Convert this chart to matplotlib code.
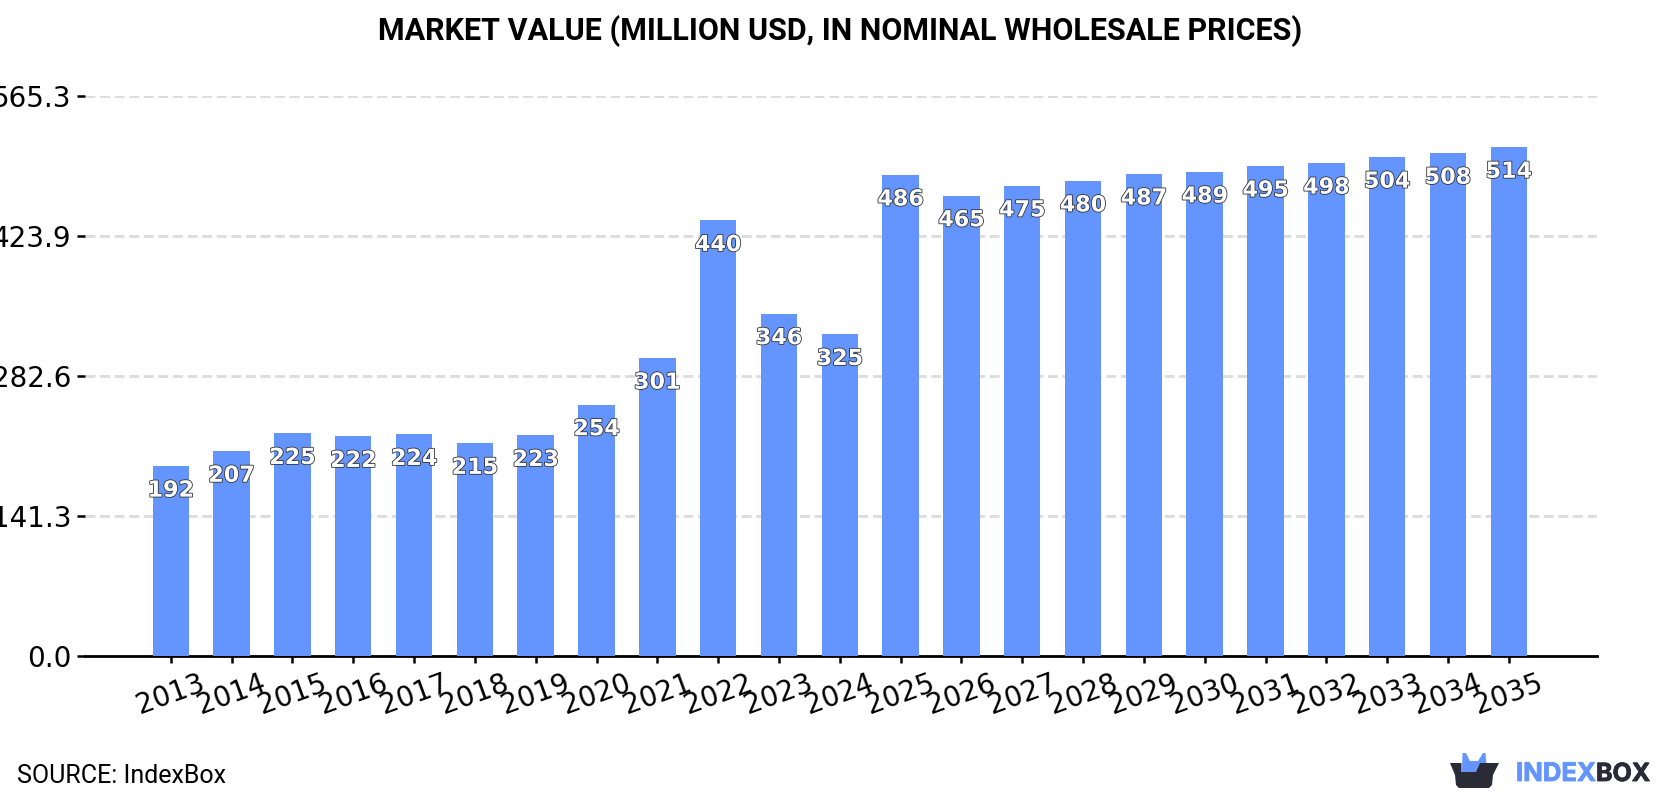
import matplotlib
matplotlib.use("Agg")
import matplotlib.pyplot as plt
import matplotlib.patheffects as pe
from matplotlib.patches import Polygon

years = [2013, 2014, 2015, 2016, 2017, 2018, 2019, 2020, 2021, 2022, 2023, 2024,
         2025, 2026, 2027, 2028, 2029, 2030, 2031, 2032, 2033, 2034, 2035]
values = [192, 207, 225, 222, 224, 215, 223, 254, 301, 440, 346, 325,
          486, 465, 475, 480, 487, 489, 495, 498, 504, 508, 514]
y_ticks = [0.0, 141.3, 282.6, 423.9, 565.3]
y_tick_labels = ["0.0", "141.3", "282.6", "423.9", "565.3"]

W, H = 1680, 800
BAR_COLOR = "#6495ff"
DARK = "#2a2b36"

fig = plt.figure(figsize=(W / 100, H / 100), dpi=100, facecolor="white")
ax = fig.add_axes([85 / W, 1 - 656.2 / H, (1597 - 85) / W, (656.2 - 96.4) / H])

positions = list(range(len(years)))
ax.bar(positions, values, width=0.6, color=BAR_COLOR, zorder=3)

for x, v in zip(positions, values):
    ax.annotate(str(v), (x, v), xytext=(0, -17.7), textcoords="offset points",
                ha="center", va="center", fontsize=16, fontweight="bold",
                family="DejaVu Sans", color="white", zorder=5,
                path_effects=[pe.withStroke(linewidth=1.2, foreground="#333333")])

ax.set_xlim(-1.41, 23.45)
ax.set_ylim(0, 565.3)
ax.set_yticks(y_ticks)
ax.set_yticklabels(y_tick_labels, fontsize=20, family="DejaVu Sans")
ax.set_xticks(positions)
ax.set_xticklabels(years, fontsize=20, rotation=20, family="DejaVu Sans")
ax.tick_params(axis="y", length=5.8, width=1.8, pad=4)
ax.tick_params(axis="x", length=5, width=1.8, pad=4)
ax.grid(axis="y", color="#dddddd", linewidth=2.1, dashes=(3.4, 1.6), zorder=1)
ax.set_axisbelow(True)
for side in ("left", "right", "top"):
    ax.spines[side].set_visible(False)
ax.spines["bottom"].set_linewidth(2.0)

fig.text(0.5, 1 - 31 / H, "MARKET VALUE (MILLION USD, IN NOMINAL WHOLESALE PRICES)",
         ha="center", va="center", fontsize=22, fontweight="bold", family="Roboto", color="black")
fig.text(17 / W, 1 - 776 / H, "SOURCE: IndexBox", ha="left", va="center",
         fontsize=18, family="Roboto", color="black")

# Brand mark: an open box with a blue crown, laid out in pixel coordinates
logo = fig.add_axes([0, 0, 1, 1], facecolor="none")
logo.set_xlim(0, W)
logo.set_ylim(H, 0)
logo.axis("off")
logo.add_patch(Polygon([(1462, 772), (1462.5, 753), (1466, 753), (1470, 761), (1478, 761),
                        (1483, 753), (1485.5, 753), (1487, 772)],
                       closed=True, facecolor=BAR_COLOR, edgecolor="none"))
logo.add_patch(Polygon([(1450, 763), (1461.5, 763), (1461.5, 772), (1476, 772), (1480, 763),
                        (1499, 763), (1493, 775), (1492, 785), (1489, 788), (1459, 788),
                        (1456, 785), (1455, 775)],
                       closed=True, facecolor=DARK, edgecolor="none"))
logo.text(1516, 774.5, "INDEX", ha="left", va="center", fontsize=18.5, fontweight="bold",
          family="Inter", color=BAR_COLOR,
          path_effects=[pe.withStroke(linewidth=0.6, foreground=BAR_COLOR)])
logo.text(1596, 774.5, "BOX", ha="left", va="center", fontsize=18, fontweight="bold",
          family="Inter", color=DARK,
          path_effects=[pe.withStroke(linewidth=0.6, foreground=DARK)])

fig.savefig("out.png", dpi=100, facecolor="white")
